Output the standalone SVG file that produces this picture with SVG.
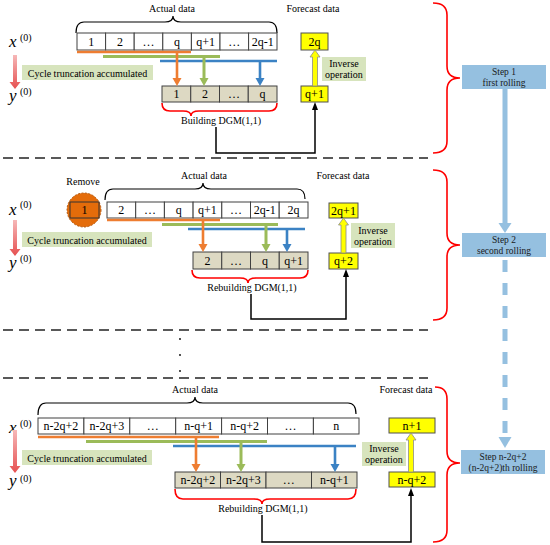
<svg xmlns="http://www.w3.org/2000/svg" width="550" height="545" viewBox="0 0 550 545" font-family="'Liberation Serif', 'DejaVu Serif', 'Times New Roman', Times, serif">
<defs>
<style>
text{font-family:'Liberation Serif','DejaVu Serif','Times New Roman',Times,serif}
.cell{fill:#fff;stroke:#404040;stroke-width:1}
.tan{fill:#ddd9c3;stroke:#404040;stroke-width:1}
.yel{fill:#ffff00;stroke:#505050;stroke-width:1}
.gbox{fill:#d7e4bd}
.step{fill:#95c0e0}
.t{font-size:12px;text-anchor:middle;fill:#000}
.s{font-size:10px;text-anchor:middle;fill:#000}
.st{font-size:9.5px;text-anchor:middle;fill:#1a1a1a}
.var{font-size:17px;font-style:italic;fill:#000}
.sup{font-size:10px;fill:#000}
.brace{fill:none;stroke:#000;stroke-width:1.2}
.rbrace{fill:none;stroke:#ff0000;stroke-width:1.6}
.sep{stroke:#595959;stroke-width:2;stroke-dasharray:10 6}
.o{stroke:#ee7d31;stroke-width:2.6}
.g{stroke:#9bbb59;stroke-width:3}
.b{stroke:#3b82c4;stroke-width:2.6}
.oh{fill:#ee7d31}
.gh{fill:#9bbb59}
.bh{fill:#3b82c4}
.k{fill:none;stroke:#000;stroke-width:1.5}
.ya{fill:#ffff00;stroke:#8c8c8c;stroke-width:0.8}
.ra{fill:url(#rg)}
</style>
<linearGradient id="rg" x1="0" y1="0" x2="0" y2="1">
<stop offset="0" stop-color="#f6b8b8"/>
<stop offset="1" stop-color="#e65050"/>
</linearGradient>
</defs>
<rect width="550" height="545" fill="#fff"/>

<g id="separators">
<line class="sep" x1="3" y1="158" x2="428" y2="158"/>
<line class="sep" x1="3" y1="330" x2="428" y2="330"/>
<line class="sep" x1="3" y1="378" x2="428" y2="378"/>
<circle cx="180" cy="339" r="0.9" fill="#000"/>
<circle cx="180" cy="355" r="0.9" fill="#000"/>
<circle cx="180" cy="371" r="0.9" fill="#000"/>
</g>

<!-- ===== Section 1 ===== -->
<g id="s1-vars">
<text class="var" x="9" y="47">x</text><text class="sup" x="20" y="41">(0)</text>
<text class="var" x="9" y="101">y</text><text class="sup" x="20" y="95">(0)</text>
<polygon class="ra" points="13,55 17,55 17,82 20.5,82 15,89 9.5,82 13,82"/>
</g>
<g id="s1-cycle">
<rect class="gbox" x="22" y="65" width="131" height="15"/>
<text class="s" x="87.5" y="76.5">Cycle truncation  accumulated</text>
</g>
<g id="s1-actual">
<text class="s" x="172" y="12">Actual data</text>
<path class="brace" d="M76,33 Q76,22 84,22 H165 Q173,22 173,16 Q173,22 181,22 H269 Q277,22 277,33"/>
<rect class="cell" x="77" y="33" width="28.6" height="17"/>
<rect class="cell" x="105.6" y="33" width="28.6" height="17"/>
<rect class="cell" x="134.2" y="33" width="28.6" height="17"/>
<rect class="cell" x="162.8" y="33" width="28.6" height="17"/>
<rect class="cell" x="191.4" y="33" width="28.6" height="17"/>
<rect class="cell" x="220" y="33" width="28.6" height="17"/>
<rect class="cell" x="248.6" y="33" width="28.4" height="17"/>
<text class="t" x="91.3" y="46">1</text>
<text class="t" x="119.9" y="46">2</text>
<text class="t" x="148.5" y="46">…</text>
<text class="t" x="177.1" y="46">q</text>
<text class="t" x="205.7" y="46">q+1</text>
<text class="t" x="234.3" y="46">…</text>
<text class="t" x="262.8" y="46">2q-1</text>
</g>
<g id="s1-model">
<rect class="tan" x="162" y="86" width="28.75" height="16"/>
<rect class="tan" x="190.75" y="86" width="28.75" height="16"/>
<rect class="tan" x="219.5" y="86" width="28.75" height="16"/>
<rect class="tan" x="248.25" y="86" width="28.75" height="16"/>
<text class="t" x="176.4" y="98">1</text>
<text class="t" x="205.1" y="98">2</text>
<text class="t" x="233.9" y="98">…</text>
<text class="t" x="262.6" y="98">q</text>
<path class="rbrace" d="M162,103 Q162,111 170,111 H183 Q191,111 191,116 Q191,111 199,111 H269 Q277,111 277,103"/>
<text class="s" x="221" y="124">Building DGM(1,1)</text>
</g>
<g id="s1-forecast">
<text class="s" x="313" y="12">Forecast data</text>
<rect class="yel" x="301" y="33" width="27" height="17"/>
<text class="t" x="314.5" y="46">2q</text>
<rect class="yel" x="301" y="86" width="27" height="16"/>
<text class="t" x="314.5" y="98">q+1</text>
<rect class="gbox" x="322" y="57" width="44" height="24"/>
<text class="s" x="344" y="67">Inverse</text>
<text class="s" x="344" y="78">operation</text>
</g>

<!-- ===== Section 2 ===== -->
<g id="s2-vars">
<text class="var" x="9" y="215">x</text><text class="sup" x="20" y="208">(0)</text>
<text class="var" x="9" y="268">y</text><text class="sup" x="20" y="262">(0)</text>
<polygon class="ra" points="13,220 17,220 17,249 20.5,249 15,256 9.5,249 13,249"/>
</g>
<g id="s2-remove">
<text class="s" x="83" y="185">Remove</text>
<circle cx="84" cy="210" r="17" fill="#e46c0a" stroke="#b35a12" stroke-width="1" stroke-dasharray="2 1.5"/>
<rect x="70" y="202" width="29" height="16" fill="#e46c0a" stroke="#333" stroke-width="1"/>
<text class="t" x="84.5" y="214">1</text>
</g>
<g id="s2-cycle">
<rect class="gbox" x="22" y="232" width="130" height="15"/>
<text class="s" x="87" y="243.5">Cycle truncation  accumulated</text>
</g>
<g id="s2-actual">
<text class="s" x="204" y="179">Actual data</text>
<path class="brace" d="M105,200 Q105,189 113,189 H195 Q203,189 203,183 Q203,189 211,189 H297 Q305,189 305,199"/>
<rect class="cell" x="107" y="202" width="28.7" height="16"/>
<rect class="cell" x="135.7" y="202" width="28.7" height="16"/>
<rect class="cell" x="164.4" y="202" width="28.7" height="16"/>
<rect class="cell" x="193.1" y="202" width="28.7" height="16"/>
<rect class="cell" x="221.8" y="202" width="28.7" height="16"/>
<rect class="cell" x="250.5" y="202" width="28.7" height="16"/>
<rect class="cell" x="279.2" y="202" width="28.8" height="16"/>
<text class="t" x="121.3" y="214">2</text>
<text class="t" x="150" y="214">…</text>
<text class="t" x="178.7" y="214">q</text>
<text class="t" x="207.4" y="214">q+1</text>
<text class="t" x="236.1" y="214">…</text>
<text class="t" x="264.8" y="214">2q-1</text>
<text class="t" x="293.6" y="214">2q</text>
</g>
<g id="s2-model">
<rect class="tan" x="193" y="252" width="28.75" height="17"/>
<rect class="tan" x="221.75" y="252" width="28.75" height="17"/>
<rect class="tan" x="250.5" y="252" width="28.75" height="17"/>
<rect class="tan" x="279.25" y="252" width="28.75" height="17"/>
<text class="t" x="207.4" y="265">2</text>
<text class="t" x="236.1" y="265">…</text>
<text class="t" x="264.9" y="265">q</text>
<text class="t" x="293.6" y="265">q+1</text>
<path class="rbrace" d="M192,270 Q192,278 200,278 H240 Q248,278 248,283 Q248,278 256,278 H300 Q308,278 308,270"/>
<text class="s" x="252" y="291">Rebuilding DGM(1,1)</text>
</g>
<g id="s2-forecast">
<text class="s" x="343" y="179">Forecast data</text>
<rect class="yel" x="329" y="203" width="29" height="15"/>
<text class="t" x="343.5" y="215">2q+1</text>
<rect class="yel" x="329" y="253" width="29" height="16"/>
<text class="t" x="343.5" y="265">q+2</text>
<rect class="gbox" x="351" y="223" width="44" height="25"/>
<text class="s" x="373" y="234">Inverse</text>
<text class="s" x="373" y="245">operation</text>
</g>

<!-- ===== Section 3 ===== -->
<g id="s3-vars">
<text class="var" x="9" y="433">x</text><text class="sup" x="20" y="427">(0)</text>
<text class="var" x="9" y="486">y</text><text class="sup" x="20" y="482">(0)</text>
<polygon class="ra" points="13,430 17,430 17,466 20.5,466 15,473 9.5,466 13,466"/>
</g>
<g id="s3-cycle">
<rect class="gbox" x="22" y="450" width="130" height="15"/>
<text class="s" x="87" y="461.5">Cycle truncation  accumulated</text>
</g>
<g id="s3-actual">
<text class="s" x="195" y="393">Actual data</text>
<path class="brace" d="M38,415 Q38,403 46,403 H187 Q195,403 195,397 Q195,403 203,403 H348 Q356,403 356,414"/>
<rect class="cell" x="38" y="418" width="45.9" height="16"/>
<rect class="cell" x="83.9" y="418" width="45.9" height="16"/>
<rect class="cell" x="129.8" y="418" width="45.9" height="16"/>
<rect class="cell" x="175.7" y="418" width="45.9" height="16"/>
<rect class="cell" x="221.6" y="418" width="45.9" height="16"/>
<rect class="cell" x="267.5" y="418" width="45.9" height="16"/>
<rect class="cell" x="313.4" y="418" width="45.6" height="16"/>
<text class="t" x="61" y="430">n-2q+2</text>
<text class="t" x="106.9" y="430">n-2q+3</text>
<text class="t" x="152.8" y="430">…</text>
<text class="t" x="198.7" y="430">n-q+1</text>
<text class="t" x="244.6" y="430">n-q+2</text>
<text class="t" x="290.5" y="430">…</text>
<text class="t" x="336.2" y="430">n</text>
</g>
<g id="s3-model">
<rect class="tan" x="175" y="472" width="45.5" height="16"/>
<rect class="tan" x="220.5" y="472" width="45.5" height="16"/>
<rect class="tan" x="266" y="472" width="45.5" height="16"/>
<rect class="tan" x="311.5" y="472" width="45.5" height="16"/>
<text class="t" x="197.8" y="484">n-2q+2</text>
<text class="t" x="243.3" y="484">n-2q+3</text>
<text class="t" x="288.8" y="484">…</text>
<text class="t" x="334.3" y="484">n-q+1</text>
<path class="rbrace" d="M175,489 Q175,499 183,499 H254 Q262,499 262,504 Q262,499 270,499 H348 Q356,499 356,489"/>
<text class="s" x="263" y="512">Rebuilding DGM(1,1)</text>
</g>
<g id="s3-forecast">
<text class="s" x="406" y="393">Forecast data</text>
<rect class="yel" x="389" y="418" width="46" height="15"/>
<text class="t" x="412" y="430">n+1</text>
<rect class="yel" x="389" y="472" width="46" height="15"/>
<text class="t" x="412" y="484">n-q+2</text>
<rect class="gbox" x="362" y="442" width="44" height="24"/>
<text class="s" x="384" y="452">Inverse</text>
<text class="s" x="384" y="463">operation</text>
</g>

<!-- ===== Right side steps ===== -->
<g id="step1">
<rect class="step" x="462" y="65" width="84" height="24"/>
<text class="st" x="504" y="75">Step 1</text>
<text class="st" x="504" y="86">first rolling</text>
</g>
<g id="step2">
<rect class="step" x="462" y="233" width="84" height="24"/>
<text class="st" x="504" y="243">Step 2</text>
<text class="st" x="504" y="254">second rolling</text>
</g>
<g id="step3">
<rect class="step" x="461" y="450" width="84" height="24"/>
<text class="st" x="503" y="460">Step n-2q+2</text>
<text class="st" x="503" y="471">(n-2q+2)th rolling</text>
</g>

<!-- ===== Connectors ===== -->
<g id="connectors">
<line class="o" x1="77" y1="52" x2="191" y2="52"/>
<line class="g" x1="103" y1="56.5" x2="220" y2="56.5"/>
<line class="b" x1="160" y1="61" x2="277" y2="61"/>
<line class="o" x1="177" y1="52" x2="177" y2="79"/>
<polygon class="oh" points="172.5,78 181.5,78 177,86"/>
<line class="g" x1="204" y1="58" x2="204" y2="79"/>
<polygon class="gh" points="199.5,78 208.5,78 204,86"/>
<line class="b" x1="260" y1="62" x2="260" y2="79"/>
<polygon class="bh" points="255.5,78 264.5,78 260,86"/>
<polyline class="k" points="216,127 216,153 315,153 315,109"/>
<polygon points="312,110 318,110 315,102"/>
<polygon class="ya" points="312.5,86 312.5,57 310,57 315,50 320,57 317.5,57 317.5,86"/>

<line class="o" x1="107" y1="220" x2="220" y2="220"/>
<line class="g" x1="162" y1="224.5" x2="278" y2="224.5"/>
<line class="b" x1="188" y1="229" x2="305" y2="229"/>
<line class="o" x1="203" y1="220" x2="203" y2="245"/>
<polygon class="oh" points="198.5,244 207.5,244 203,252"/>
<line class="g" x1="266" y1="226" x2="266" y2="245"/>
<polygon class="gh" points="261.5,244 270.5,244 266,252"/>
<line class="b" x1="287" y1="230" x2="287" y2="245"/>
<polygon class="bh" points="282.5,244 291.5,244 287,252"/>
<polyline class="k" points="251,294 251,319 346,319 346,276"/>
<polygon points="343,277 349,277 346,269"/>
<polygon class="ya" points="341,253 341,225 338.5,225 343.5,218 348.5,225 346,225 346,253"/>

<line class="o" x1="38" y1="437" x2="219" y2="437"/>
<line class="g" x1="86" y1="441.5" x2="267" y2="441.5"/>
<line class="b" x1="173" y1="446" x2="356" y2="446"/>
<line class="o" x1="196" y1="437" x2="196" y2="465"/>
<polygon class="oh" points="191.5,464 200.5,464 196,472"/>
<line class="g" x1="241" y1="443" x2="241" y2="465"/>
<polygon class="gh" points="236.5,464 245.5,464 241,472"/>
<line class="b" x1="335" y1="447" x2="335" y2="465"/>
<polygon class="bh" points="330.5,464 339.5,464 335,472"/>
<polyline class="k" points="262,515 262,542 411,542 411,495"/>
<polygon points="408,496 414,496 411,488"/>
<polygon class="ya" points="408.5,472 408.5,440 406,440 411,433 416,440 413.5,440 413.5,472"/>

<path class="rbrace" d="M433,3 Q447,3 447,15 V66 Q447,78 460,78 Q447,78 447,90 V141 Q447,153 433,153"/>
<path class="rbrace" d="M433,170 Q447,170 447,182 V233 Q447,245 460,245 Q447,245 447,257 V308 Q447,320 433,320"/>
<path class="rbrace" d="M435,387 Q447,387 447,399 V451 Q447,463 460,463 Q447,463 447,475 V530 Q447,542 433,542"/>

<line x1="505" y1="89" x2="505" y2="225" stroke="#95c0e0" stroke-width="5"/>
<polygon points="498.5,223 511.5,223 505,233" fill="#95c0e0"/>
<line x1="505" y1="260" x2="505" y2="438" stroke="#95c0e0" stroke-width="5" stroke-dasharray="12 11"/>
<polygon points="498.5,437 511.5,437 505,448" fill="#95c0e0"/>
</g>
</svg>
